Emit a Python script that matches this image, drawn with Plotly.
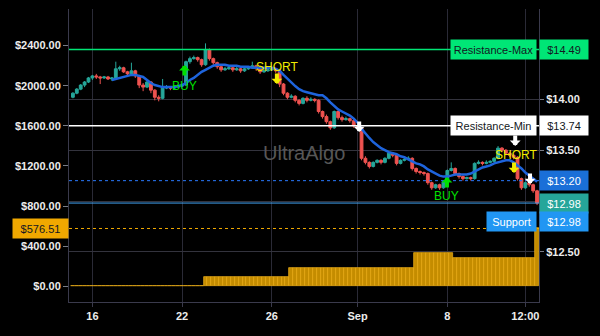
import plotly.graph_objects as go

# ---------------- data ----------------
tick_labels = ['16', '22', '26', 'Sep', '8', '12:00']
tick_index = [5, 28, 51, 73, 96, 116]

opens = [14.02, 14.06, 14.10, 14.14, 14.17, 14.21, 14.23, 14.22, 14.21, 14.22,
         14.20, 14.21, 14.30, 14.31, 14.27, 14.25, 14.28, 14.23, 14.14, 14.12,
         14.17, 14.09, 14.02, 14.01, 14.11, 14.12, 14.11, 14.12, 14.13, 14.14,
         14.37, 14.40, 14.41, 14.39, 14.34, 14.49, 14.40, 14.36, 14.32, 14.29,
         14.30, 14.31, 14.29, 14.30, 14.28, 14.30, 14.31, 14.33, 14.30, 14.27,
         14.28, 14.29, 14.30, 14.28, 14.15, 14.06, 14.02, 14.03, 13.99, 13.96,
         14.01, 13.99, 14.00, 13.99, 13.88, 13.83, 13.78, 13.72, 13.88, 13.82,
         13.80, 13.81, 13.79, 13.74, 13.72, 13.42, 13.38, 13.34, 13.38, 13.40,
         13.38, 13.42, 13.47, 13.45, 13.37, 13.40, 13.41, 13.42, 13.32, 13.29,
         13.28, 13.27, 13.18, 13.13, 13.16, 13.13, 13.19, 13.30, 13.32, 13.27,
         13.24, 13.22, 13.23, 13.22, 13.37, 13.38, 13.37, 13.38, 13.39, 13.42,
         13.52, 13.50, 13.47, 13.45, 13.43, 13.22, 13.13, 13.18, 13.16, 13.10]

closes = [14.06, 14.10, 14.14, 14.17, 14.21, 14.23, 14.22, 14.21, 14.22, 14.20,
          14.21, 14.30, 14.31, 14.27, 14.25, 14.28, 14.23, 14.14, 14.12, 14.17,
          14.09, 14.02, 14.01, 14.11, 14.12, 14.11, 14.12, 14.13, 14.14, 14.37,
          14.40, 14.41, 14.39, 14.34, 14.49, 14.40, 14.36, 14.32, 14.29, 14.30,
          14.31, 14.29, 14.30, 14.28, 14.30, 14.31, 14.33, 14.30, 14.27, 14.28,
          14.29, 14.30, 14.28, 14.15, 14.06, 14.02, 14.03, 13.99, 13.96, 14.01,
          13.99, 14.00, 13.99, 13.88, 13.83, 13.78, 13.72, 13.88, 13.82, 13.80,
          13.81, 13.79, 13.74, 13.72, 13.42, 13.38, 13.34, 13.38, 13.40, 13.38,
          13.42, 13.47, 13.45, 13.37, 13.40, 13.41, 13.42, 13.32, 13.29, 13.28,
          13.27, 13.18, 13.13, 13.16, 13.13, 13.19, 13.30, 13.32, 13.27, 13.24,
          13.22, 13.23, 13.22, 13.37, 13.38, 13.37, 13.38, 13.39, 13.42, 13.52,
          13.50, 13.47, 13.45, 13.43, 13.22, 13.13, 13.18, 13.16, 13.10, 12.98]

highs = [14.07, 14.11, 14.15, 14.18, 14.22, 14.24, 14.25, 14.23, 14.23, 14.23,
         14.22, 14.37, 14.33, 14.32, 14.28, 14.36, 14.29, 14.24, 14.16, 14.18,
         14.18, 14.10, 14.04, 14.20, 14.14, 14.13, 14.14, 14.14, 14.15, 14.38,
         14.42, 14.43, 14.42, 14.40, 14.55, 14.50, 14.41, 14.37, 14.33, 14.32,
         14.33, 14.32, 14.32, 14.31, 14.31, 14.32, 14.37, 14.34, 14.31, 14.30,
         14.31, 14.31, 14.31, 14.29, 14.16, 14.07, 14.05, 14.04, 14.00, 14.02,
         14.03, 14.02, 14.01, 14.00, 13.89, 13.85, 13.79, 13.89, 13.89, 13.84,
         13.83, 13.82, 13.80, 13.75, 13.73, 13.44, 13.39, 13.39, 13.41, 13.41,
         13.43, 13.48, 13.48, 13.46, 13.41, 13.43, 13.44, 13.43, 13.33, 13.30,
         13.29, 13.28, 13.19, 13.17, 13.17, 13.20, 13.31, 13.38, 13.33, 13.28,
         13.25, 13.24, 13.24, 13.38, 13.40, 13.39, 13.40, 13.40, 13.43, 13.54,
         13.53, 13.51, 13.48, 13.46, 13.44, 13.23, 13.19, 13.19, 13.17, 13.11]

lows = [14.01, 14.05, 14.09, 14.12, 14.16, 14.19, 14.20, 14.15, 14.20, 14.19,
        14.18, 14.20, 14.28, 14.26, 14.23, 14.24, 14.21, 14.11, 14.08, 14.11,
        14.06, 13.99, 13.98, 14.00, 14.10, 14.09, 14.10, 14.11, 14.12, 14.13,
        14.35, 14.39, 14.37, 14.32, 14.33, 14.38, 14.34, 14.30, 14.27, 14.28,
        14.29, 14.27, 14.28, 14.26, 14.27, 14.29, 14.30, 14.28, 14.25, 14.26,
        14.27, 14.28, 14.26, 14.12, 14.04, 14.00, 14.01, 13.97, 13.94, 13.95,
        13.97, 13.98, 13.97, 13.86, 13.81, 13.76, 13.70, 13.71, 13.80, 13.78,
        13.79, 13.77, 13.72, 13.70, 13.40, 13.36, 13.32, 13.33, 13.37, 13.36,
        13.37, 13.41, 13.43, 13.35, 13.36, 13.39, 13.40, 13.30, 13.27, 13.26,
        13.25, 13.16, 13.11, 13.12, 13.11, 13.12, 13.18, 13.29, 13.25, 13.22,
        13.20, 13.21, 13.20, 13.21, 13.36, 13.35, 13.36, 13.37, 13.38, 13.41,
        13.48, 13.45, 13.43, 13.41, 13.20, 13.11, 13.12, 13.14, 13.08, 12.96]

moving_avg = [None, None, None, None, None, None, None, None, None, None,
              14.19, 14.20, 14.21, 14.22, 14.23, 14.24, 14.24, 14.23, 14.22, 14.19,
              14.16, 14.14, 14.13, 14.12, 14.12, 14.12, 14.12, 14.13, 14.14, 14.16,
              14.19, 14.21, 14.24, 14.27, 14.29, 14.31, 14.33, 14.34, 14.34, 14.34,
              14.33, 14.33, 14.33, 14.32, 14.32, 14.32, 14.31, 14.31, 14.31, 14.31,
              14.31, 14.31, 14.30, 14.28, 14.24, 14.20, 14.16, 14.13, 14.10, 14.08,
              14.07, 14.06, 14.05, 14.04, 14.04, 14.01, 13.97, 13.93, 13.90, 13.88,
              13.86, 13.84, 13.81, 13.77, 13.71, 13.66, 13.62, 13.58, 13.55, 13.52,
              13.50, 13.48, 13.47, 13.46, 13.44, 13.43, 13.41, 13.39, 13.37, 13.36,
              13.34, 13.31, 13.29, 13.27, 13.25, 13.24, 13.24, 13.25, 13.26, 13.26,
              13.26, 13.26, 13.27, 13.29, 13.31, 13.33, 13.34, 13.35, 13.37, 13.38,
              13.39, 13.40, 13.40, 13.38, 13.35, 13.32, 13.28, 13.25, 13.22, 13.19]

volume_usd = [5, 5, 5, 5, 5, 5, 5, 5, 5, 5,
              5, 5, 5, 5, 5, 5, 5, 5, 5, 5,
              5, 5, 5, 5, 5, 5, 5, 5, 5, 5,
              5, 5, 5, 5, 93, 93, 93, 93, 93, 93,
              93, 93, 93, 93, 93, 93, 93, 93, 93, 93,
              93, 93, 93, 93, 93, 93, 183, 183, 183, 183,
              183, 183, 183, 183, 183, 183, 183, 183, 183, 183,
              183, 183, 183, 183, 183, 183, 183, 183, 183, 183,
              183, 183, 183, 183, 183, 183, 183, 183, 330, 330,
              330, 330, 330, 330, 330, 330, 330, 330, 282, 282,
              282, 282, 282, 282, 282, 282, 282, 282, 282, 282,
              282, 282, 282, 282, 282, 282, 282, 282, 282, 576.51]

left_ticks = [0, 400, 800, 1200, 1600, 2000, 2400]
left_ticktext = ['$0.00', '$400.00', '$800.00', '$1200.00', '$1600.00', '$2000.00', '$2400.00']
right_ticks = [12.5, 13.0, 13.5, 14.0]
right_ticktext = ['$12.50', '', '$13.50', '$14.00']

resistance_max = 14.49
resistance_min = 13.74
mid_level = 13.20
support = 12.98
last_price = 12.98
last_volume = 576.51

# signals: (bar index, price anchor, kind)
signals = [
    (28.6, 14.337, 'buy_arrow'), (28.6, 14.13, 'buy_text'),
    (52.3, 14.317, 'short_text'), (52.3, 14.15, 'short_arrow'),
    (73.4, 13.678, 'exit_arrow'),
    (95.9, 13.236, 'buy_arrow'), (95.9, 13.049, 'buy_text'),
    (113.4, 13.541, 'exit_arrow'),
    (113.5, 13.452, 'short_text'), (113.1, 13.275, 'short_arrow'),
    (117.2, 13.167, 'exit_arrow'),
]

# ---------------- figure ----------------
idx = list(range(len(closes)))
FONT = 'Liberation Sans, Arial, sans-serif'
TICKFONT = dict(family=FONT, size=11, color='#ececec', weight='bold')

fig = go.Figure()
fig.add_trace(go.Bar(
    x=idx, y=volume_usd, yaxis='y', width=1.0,
    marker=dict(color='#c48c00', line=dict(color='#f0b21a', width=0.7)),
    hoverinfo='skip'))
fig.add_trace(go.Candlestick(
    x=idx, open=opens, high=highs, low=lows, close=closes, yaxis='y2',
    increasing=dict(line=dict(color='#26a69a', width=1), fillcolor='#26a69a'),
    decreasing=dict(line=dict(color='#ef5350', width=1), fillcolor='#ef5350'),
    whiskerwidth=0))
fig.add_trace(go.Scatter(
    x=idx, y=moving_avg, yaxis='y2', mode='lines',
    line=dict(color='#1e64dc', width=2.5), hoverinfo='skip'))

shapes = [
    dict(type='line', layer='above', xref='paper', x0=0, x1=1, yref='y2',
         y0=resistance_max, y1=resistance_max, line=dict(color='#00e676', width=1.3)),
    dict(type='line', layer='above', xref='paper', x0=0, x1=1, yref='y2',
         y0=resistance_min, y1=resistance_min, line=dict(color='#ffffff', width=1.5)),
    dict(type='line', layer='above', xref='paper', x0=0, x1=1, yref='y2',
         y0=mid_level, y1=mid_level, line=dict(color='#2979ff', width=1, dash='dot')),
    dict(type='line', layer='above', xref='paper', x0=0, x1=1, yref='y2',
         y0=support, y1=support, line=dict(color='#42a5f5', width=1)),
    dict(type='line', layer='above', xref='paper', x0=0, x1=1, yref='y',
         y0=last_volume, y1=last_volume, line=dict(color='#f0a800', width=1, dash='dot')),
]


def box(y, text, bg, fg, yref='y2', w=44, yshift=0, inside=False):
    return dict(xref='paper', x=1, xanchor='right' if inside else 'left',
                xshift=-2 if inside else 0,
                yref=yref, y=y, text=text, showarrow=False, bgcolor=bg,
                font=dict(color=fg, size=11, family=FONT), width=w, height=15,
                borderpad=2, yshift=yshift, align='center')


annotations = [
    box(resistance_max, '$%.2f' % resistance_max, '#00e676', '#131722'),
    box(resistance_max, 'Resistance-Max', '#00e676', '#131722', w=81, inside=True),
    box(resistance_min, '$%.2f' % resistance_min, '#ffffff', '#131722'),
    box(resistance_min, 'Resistance-Min', '#ffffff', '#131722', w=81, inside=True),
    box(mid_level, '$%.2f' % mid_level, '#1a6fd8', '#ffffff'),
    box(last_price, '$%.2f' % last_price, '#26a69a', '#ffffff'),
    box(support, '$%.2f' % support, '#2196f3', '#ffffff', yshift=-18),
    box(support, 'Support', '#2196f3', '#ffffff', w=45, yshift=-18, inside=True),
]

annotations.append(dict(xref='paper', x=0, xanchor='right', yref='y', y=last_volume,
                        text='$%.2f' % last_volume, showarrow=False, bgcolor='#f0a800',
                        font=dict(color='#131722', size=11, family=FONT), width=51, height=15,
                        borderpad=2, align='center'))

annotations.append(dict(xref='paper', yref='paper', x=0.5, y=0.51, text='UltraAlgo',
                        showarrow=False, font=dict(color='#575757', size=20, family=FONT)))

for xi, yp, kind in signals:
    if kind.endswith('text'):
        color = '#00e000' if kind.startswith('buy') else '#f2ec00'
        annotations.append(dict(x=xi, y=yp, xref='x', yref='y2', showarrow=False,
                                text='BUY' if kind.startswith('buy') else 'SHORT',
                                font=dict(color=color, size=12, family=FONT)))
    else:
        color = {'buy_arrow': '#00e000', 'short_arrow': '#f2ec00', 'exit_arrow': '#ffffff'}[kind]
        up = kind == 'buy_arrow'
        annotations.append(dict(x=xi, y=yp, xref='x', yref='y2', text='', showarrow=True,
                                arrowhead=1, arrowsize=0.45, arrowwidth=4, arrowcolor=color,
                                ax=0, ay=12 if up else -12, standoff=0))

fig.update_layout(
    width=600, height=336, margin=dict(l=69, r=61, t=9, b=34),
    paper_bgcolor='#000000', plot_bgcolor='#000000', showlegend=False, bargap=0,
    boxgap=0.2, boxgroupgap=0.1,
    font=dict(family=FONT, size=11, color='#e6e6e6'),
    xaxis=dict(range=[-1.0, 119.5], tickvals=tick_index, ticktext=tick_labels,
               tickfont=TICKFONT,
               showgrid=True, gridcolor='#2a2a36', gridwidth=1,
               showline=True, linecolor='#3a3a4c', ticks='outside', ticklen=4,
               tickcolor='#3a3a4c', rangeslider=dict(visible=False), zeroline=False),
    yaxis=dict(range=[-156.5, 2765], tickvals=left_ticks, ticktext=left_ticktext,
               tickfont=TICKFONT,
               showgrid=False, showline=True, linecolor='#3a3a4c', ticks='outside',
               ticklen=5, tickcolor='#787b86', zeroline=False),
    yaxis2=dict(overlaying='y', side='right', range=[12.007, 14.888],
                tickvals=right_ticks, ticktext=right_ticktext, tickfont=TICKFONT,
                showgrid=True, gridcolor='#33333d', showline=True, linecolor='#3a3a4c',
                ticks='outside', ticklen=4, tickcolor='#787b86', zeroline=False),
    shapes=shapes, annotations=annotations,
)

fig.write_html('out.html')
